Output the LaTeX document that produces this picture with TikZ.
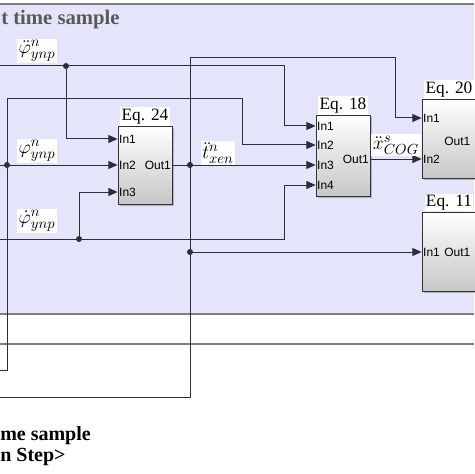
\documentclass[tikz,border=0pt]{standalone}
\usepackage{fontspec}
\setmainfont{Liberation Serif}
\setsansfont{Liberation Sans}
\usepackage{tikz}
\usetikzlibrary{positioning,shadows,arrows.meta}
\definecolor{panelbg}{RGB}{228,228,250}
\definecolor{wire}{RGB}{45,45,55}
\definecolor{frame}{RGB}{125,125,125}
\tikzset{>={Triangle[length=7pt,width=6pt]}}
\tikzset{
  blk/.style={draw=black!80,line width=0.6pt,top color=white,bottom color=black!22,
    drop shadow={shadow xshift=1.2pt,shadow yshift=-1.2pt,opacity=0.5},
    minimum width=40.5pt,inner sep=0pt},
  eqtitle/.style={fill=white,inner sep=1pt,font=\fontsize{13}{13}\selectfont},
  port/.style={font=\sffamily\fontsize{9}{10}\selectfont,inner sep=1pt},
  sig/.style={fill=white,inner sep=1.2pt,font=\fontsize{15}{15}\selectfont},
  wirel/.style={draw=wire,line width=0.75pt},
  dot/.style={circle,fill=wire,inner sep=0pt,minimum size=4.5pt},
}

\begin{document}
\begin{tikzpicture}[x=0.75pt,y=-0.75pt]
  \useasboundingbox (0,0) rectangle (474,474);
  % subsystem area
  \fill[panelbg] (0,4) rectangle (474,314);
  \draw[frame,line width=1.1pt] (0,4) -- (474,4);
  \draw[frame,line width=0.8pt] (0,314) -- (474,314);
  \draw[frame,line width=1.5pt] (0,344) -- (474,344);
  \node[anchor=base west,inner sep=0pt,text=black!65,font=\bfseries\fontsize{15.5}{16}\selectfont] (ttl) at (1,25) {t time sample};

  % blocks
  \node[blk,minimum height=58.5pt] (eq24) at (145,165) {};
  \node[blk,minimum height=60.75pt] (eq18) at (343,155.5) {};
  \node[blk,minimum height=59.25pt] (eq20) at (449,138.5) {};
  \node[blk,minimum height=59.25pt] (eq11) at (449,251.5) {};
  \node[eqtitle,above=0pt of eq24] (t24) {Eq. 24};
  \node[eqtitle,above=0pt of eq18] (t18) {Eq. 18};
  \node[eqtitle,above=0pt of eq20] (t20) {Eq. 20};
  \node[eqtitle,above=0pt of eq11] (t11) {Eq. 11};

  % ports
  \coordinate (e24i1) at (eq24.west |- 0,139);
  \coordinate (e24i2) at (eq24.west |- 0,165);
  \coordinate (e24i3) at (eq24.west |- 0,192);
  \coordinate (e24o) at (eq24.east |- 0,165);
  \coordinate (e18i1) at (eq18.west |- 0,126);
  \coordinate (e18i2) at (eq18.west |- 0,145);
  \coordinate (e18i3) at (eq18.west |- 0,165);
  \coordinate (e18i4) at (eq18.west |- 0,185);
  \coordinate (e18o) at (eq18.east |- 0,159);
  \coordinate (e20i1) at (eq20.west |- 0,118);
  \coordinate (e20i2) at (eq20.west |- 0,159);
  \coordinate (e11i1) at (eq11.west |- 0,252);
  \node[port,anchor=west] (p24a) at (e24i1) {In1};
  \node[port,anchor=west] (p24b) at (e24i2) {In2};
  \node[port,anchor=west] (p24c) at (e24i3) {In3};
  \node[port,anchor=east] (p24o) at (e24o) {Out1};
  \node[port,anchor=west] (p18a) at (e18i1) {In1};
  \node[port,anchor=west] (p18b) at (e18i2) {In2};
  \node[port,anchor=west] (p18c) at (e18i3) {In3};
  \node[port,anchor=west] (p18d) at (e18i4) {In4};
  \node[port,anchor=east] (p18o) at (e18o) {Out1};
  \node[port,anchor=west] (p20a) at (e20i1) {In1};
  \node[port,anchor=west] (p20b) at (e20i2) {In2};
  \node[port,anchor=east] (p20o) at (472,141) {Out1};
  \node[port,anchor=west] (p11a) at (e11i1) {In1};
  \node[port,anchor=east] (p11o) at (472,252) {Out1};

  % junctions
  \node[dot] (j1) at (66,66) {};
  \node[dot] (j2) at (7,165) {};
  \node[dot] (j3) at (79,239) {};
  \node[dot] (j4) at (190,165) {};
  \node[dot] (j5) at (190,252) {};

  % signals
  \coordinate (pdd) at (0,66);
  \coordinate (pin) at (0,165);
  \coordinate (pret) at (0,370);
  \coordinate (pdot) at (0,239);
  \coordinate (tret) at (0,397);
  \draw[wirel,->] (pdd) -- (284,66) |- (e18i1);
  \draw[wirel,->] (j1) |- (e24i1);
  \draw[wirel,->] (pin) -- (e24i2);
  \draw[wirel,->] (pret) -| (7,99) -- (242,99) |- (e18i2);
  \draw[wirel,->] (pdot) -- (284,239) |- (e18i4);
  \draw[wirel,->] (j3) |- (e24i3);
  \draw[wirel,->] (e24o) -- (e18i3);
  \draw[wirel,->] (tret) -| (190,58) -- (395,58) |- (e20i1);
  \draw[wirel,->] (j5) -- (e11i1);
  \draw[wirel,->] (e18o) -- (e20i2);

  % signal names
  \node[sig] (lpdd) at (37,51) {$\ddot{\varphi}^{n}_{ynp}$};
  \node[sig] (lp) at (37,151) {$\varphi^{n}_{ynp}$};
  \node[sig] (lpd) at (37,221) {$\dot{\varphi}^{n}_{ynp}$};
  \node[sig] (lt) at (218,153) {$\ddot{t}^{n}_{xen}$};
  \node[sig] (lx) at (396,145) {$\ddot{x}^{s}_{COG}$};

  % outside text
  \node[anchor=base west,inner sep=0pt,font=\bfseries\fontsize{15}{16}\selectfont] (nx1) at (0,440) {me sample};
  \node[anchor=base west,inner sep=0pt,font=\bfseries\fontsize{15}{16}\selectfont] (nx2) at (0,461) {n Step>};
\end{tikzpicture}
\end{document}
